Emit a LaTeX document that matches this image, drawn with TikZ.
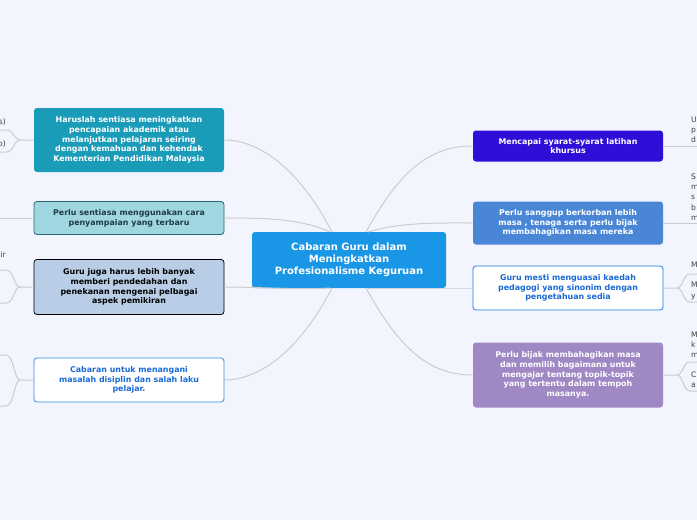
\documentclass[tikz,border=0pt]{standalone}
\usepackage{fontspec}
\setmainfont{DejaVu Sans}
\begin{document}
\begin{tikzpicture}[x=1pt,y=-1pt,
 box/.style={rounded corners=3pt,minimum width=190pt,align=center,font=\fontsize{7.9}{9.7}\selectfont\bfseries,line width=0.8pt,inner sep=2pt},
 conn/.style={draw=black!20,line width=1pt},
 edge/.style={font=\fontsize{7.6}{10.2}\selectfont,text=black!75,anchor=west,inner sep=0pt}]
\definecolor{bg}{HTML}{F3F5FE}
\fill[bg] (0,0) rectangle (697,520);
\useasboundingbox (0,0) rectangle (697,520);
\node[box,fill={rgb,255:red,26;green,150;blue,230},text=white,minimum width=194pt,minimum height=56pt,font=\fontsize{10}{12}\selectfont\bfseries] (c) at (349,260) {Cabaran Guru dalam\\Meningkatkan\\Profesionalisme Keguruan};
\node[box,fill={rgb,255:red,26;green,155;blue,184},text=white,minimum height=64pt] (l1) at (129,140) {Haruslah sentiasa meningkatkan\\pencapaian akademik atau\\melanjutkan pelajaran  seiring\\dengan kemahuan dan kehendak\\Kementerian Pendidikan Malaysia};
\node[box,fill={rgb,255:red,160;green,214;blue,224},draw={rgb,255:red,40;green,100;blue,115},text={rgb,255:red,30;green,60;blue,70},minimum height=33pt] (l2) at (129,218) {Perlu sentiasa menggunakan cara\\penyampaian yang terbaru};
\node[box,fill={rgb,255:red,185;green,205;blue,230},draw=black,text=black,minimum height=55pt] (l3) at (129,287) {Guru juga harus lebih banyak\\memberi pendedahan dan\\penekanan mengenai pelbagai\\aspek pemikiran};
\node[box,fill=white,draw={rgb,255:red,58;green,138;blue,230},text={rgb,255:red,26;green,106;blue,214},minimum height=44pt] (l4) at (129,380) {Cabaran untuk menangani\\masalah disiplin dan salah laku\\pelajar.};
\node[box,fill={rgb,255:red,47;green,15;blue,216},text=white,minimum height=31pt] (r1) at (568,146) {Mencapai syarat-syarat latihan\\khursus};
\node[box,fill={rgb,255:red,74;green,134;blue,214},text=white,minimum height=43pt] (r2) at (568,223) {Perlu sanggup berkorban  lebih\\masa , tenaga serta perlu bijak\\membahagikan masa mereka};
\node[box,fill=white,draw={rgb,255:red,26;green,120;blue,230},text={rgb,255:red,26;green,106;blue,214},minimum height=44pt] (r3) at (568,288) {Guru mesti menguasai kaedah\\pedagogi yang sinonim dengan\\pengetahuan sedia};
\node[box,fill={rgb,255:red,160;green,136;blue,196},text=white,minimum height=65pt] (r4) at (568,375) {Perlu bijak membahagikan masa\\dan memilih bagaimana  untuk\\mengajar tentang topik-topik\\yang tertentu dalam tempoh\\masanya.};
% main connectors
\draw[conn] (332,232) .. controls (300,170) and (260,140) .. (l1.east);
\draw[conn] (330,232) .. controls (300,218) and (260,218) .. (l2.east);
\draw[conn] (330,288) .. controls (300,290) and (260,287) .. (l3.east);
\draw[conn] (332,288) .. controls (300,350) and (260,380) .. (l4.east);
\draw[conn] (366,232) .. controls (400,170) and (430,146) .. (r1.west);
\draw[conn] (368,232) .. controls (400,222) and (440,223) .. (r2.west);
\draw[conn] (368,288) .. controls (400,288) and (440,288) .. (r3.west);
\draw[conn] (366,288) .. controls (400,350) and (430,375) .. (r4.west);
% sub branches left
\draw[conn] (l1.west) -- (20,140) .. controls (14,140) and (14,130) .. (6,130) -- (-1,130);
\draw[conn] (20,140) .. controls (14,140) and (14,152) .. (6,152) -- (-1,152);
\node[edge,anchor=east] (e1) at (6,122) {s)};
\node[edge,anchor=east] (e2) at (6,144) {o)};
\draw[conn] (l2.west) -- (-1,218);
\draw[conn] (l3.west) -- (20,287) .. controls (14,287) and (14,270) .. (6,270) -- (-1,270);
\draw[conn] (20,287) .. controls (14,287) and (14,303) .. (6,303) -- (-1,303);
\node[edge,anchor=east] (e3) at (6,255) {ir};
\draw[conn] (l4.west) -- (20,380) .. controls (14,380) and (14,355) .. (6,355) -- (-1,355);
\draw[conn] (20,380) .. controls (14,380) and (14,406) .. (6,406) -- (-1,406);
% sub branches right
\draw[conn] (r1.east) -- (698,146);
\node[edge,align=left] (f1) at (691,130) {U\\p\\d};
\draw[conn] (r2.east) -- (698,223);
\node[edge,align=left] (f2) at (691,197) {S\\m\\s\\b\\m};
\draw[conn] (r3.east) -- (677,288) .. controls (683,288) and (683,274) .. (690,274) -- (698,274);
\draw[conn] (677,288) .. controls (683,288) and (683,302) .. (690,302) -- (698,302);
\node[edge] (f3) at (691,265) {M};
\node[edge,align=left] (f4) at (691,291) {M\\y};
\draw[conn] (r4.east) -- (677,375) .. controls (683,375) and (683,362) .. (690,362) -- (698,362);
\draw[conn] (677,375) .. controls (683,375) and (683,391) .. (690,391) -- (698,391);
\node[edge,align=left] (f5) at (691,345) {M\\k\\m};
\node[edge,align=left] (f6) at (691,380) {C\\a};
\end{tikzpicture}
\end{document}
